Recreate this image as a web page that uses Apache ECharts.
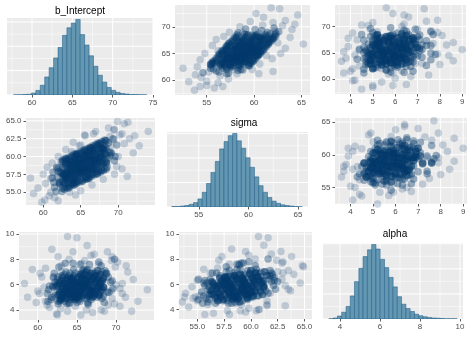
<!DOCTYPE html>
<html><head><meta charset="utf-8">
<script src="https://cdn.jsdelivr.net/npm/echarts@6/dist/echarts.min.js"></script>
<style>html,body{margin:0;padding:0;background:#fff}#chart{width:474px;height:338px}</style>
</head><body><div id="chart"></div>
<script>
// ---------------- data ----------------
const bInterceptBinCenters = [58.0,58.55,59.1,59.65,60.2,60.75,61.3,61.85,62.4,62.95,63.5,64.05,64.6,65.15,65.7,66.25,66.8,67.35,67.9,68.45,69.0,69.55,70.1,70.65,71.2,71.75,72.3,72.85,73.4,73.95];
const bInterceptCounts = [1,1,2,3,8,19,40,74,112,152,195,245,276,295,310,248,205,161,118,81,53,31,19,11,6,4,2,2,1,1];
const bInterceptBinWidth = 0.55;
const sigmaBinCenters = [52.5,52.94,53.38,53.81,54.25,54.69,55.13,55.57,56.0,56.44,56.88,57.32,57.76,58.19,58.63,59.07,59.51,59.95,60.39,60.83,61.26,61.7,62.14,62.58,63.02,63.45,63.89,64.33,64.77,65.2];
const sigmaCounts = [2,2,4,6,11,18,33,60,96,141,186,237,267,291,300,270,240,201,162,123,87,60,39,24,15,9,6,4,2,1];
const sigmaBinWidth = 0.438;
const alphaBinCenters = [3.55,3.76,3.98,4.19,4.41,4.62,4.83,5.05,5.26,5.48,5.69,5.9,6.12,6.33,6.55,6.76,6.97,7.19,7.4,7.62,7.83,8.04,8.26,8.47,8.69,8.9,9.11,9.33,9.54,9.75];
const alphaCounts = [1,4,12,27,50,92,149,202,249,276,297,279,238,205,166,128,89,59,42,30,19,13,9,6,4,3,2,1,1,1];
const alphaBinWidth = 0.214;

// draws [b_Intercept, sigma, alpha]; lower triangle panels (bulk of the cloud)
const lowerDraws = [
[61.2,57.0,5.3],[61.5,55.7,5.9],[61.8,58.5,5.0],[61.4,56.4,5.6],[62.0,57.9,6.6],[61.7,55.1,4.8],[61.9,57.1,5.9],[61.3,57.8,4.7],
[62.1,56.4,6.9],[62.4,59.3,5.8],[62.7,57.2,6.2],[62.9,56.1,4.8],[62.3,57.8,5.9],[62.6,59.2,4.7],[62.2,56.3,6.2],[62.8,57.5,5.2],
[62.5,55.1,6.4],[62.0,58.4,5.8],[62.9,57.0,4.8],[62.4,57.7,6.0],[62.7,57.7,7.4],[62.2,56.1,5.2],
[63.1,59.1,5.6],[63.4,57.4,6.1],[63.7,58.7,5.0],[63.9,56.2,5.5],[63.2,57.8,6.6],[63.5,58.9,5.3],[63.8,57.3,5.9],[63.0,59.6,4.9],
[63.6,57.7,7.0],[63.3,56.3,5.3],[63.9,58.6,6.4],[63.5,59.6,5.3],[63.2,56.8,5.7],[63.7,57.9,4.5],[63.4,55.6,6.1],[63.8,59.3,5.5],
[63.1,57.1,6.7],[63.6,58.3,5.7],[63.3,58.0,5.0],[63.9,56.9,5.9],[63.5,59.3,7.7],[63.0,57.2,5.4],
[64.1,58.9,5.5],[64.4,56.5,6.0],[64.7,58.5,5.0],[64.9,59.6,6.0],[64.2,57.5,6.5],[64.5,60.3,5.5],[64.8,58.3,6.0],[64.0,56.7,4.5],
[64.6,59.0,7.2],[64.3,60.0,5.9],[64.9,57.6,6.2],[64.5,58.3,5.1],[64.2,56.0,5.6],[64.7,59.7,4.8],[64.4,57.8,6.5],[64.8,58.9,5.4],
[64.1,58.4,6.9],[64.6,57.3,5.6],[64.3,59.7,5.3],[64.9,58.1,6.1],[64.5,59.1,7.7],[64.0,56.3,5.2],[64.7,58.5,5.5],[64.2,59.3,6.4],
[64.8,57.8,4.9],[64.4,60.3,6.1],[64.6,58.2,6.6],[64.3,56.8,5.0],
[65.1,59.2,6.2],[65.4,60.6,5.1],[65.7,58.0,7.1],[65.9,59.0,5.7],[65.2,56.5,6.1],[65.5,60.1,5.4],[65.8,58.5,6.0],[65.0,59.0,4.6],
[65.6,59.2,6.7],[65.3,57.6,5.2],[65.9,60.5,7.2],[65.5,58.4,5.8],[65.2,59.5,5.2],[65.7,57.1,6.0],[65.4,58.9,7.6],[65.8,60.1,5.8],
[65.1,57.9,5.4],[65.6,60.9,6.6],[65.3,58.5,5.0],[65.9,57.6,5.7],[65.5,59.4,6.8],[65.0,60.4,5.5],[65.7,58.0,6.0],[65.2,58.7,4.8],
[65.8,56.8,6.9],[65.4,60.1,5.9],[65.6,58.4,6.4],[65.3,59.1,5.3],
[66.1,59.4,6.1],[66.4,58.2,4.5],[66.7,60.9,6.9],[66.9,59.1,5.5],[66.2,60.0,7.1],[66.5,57.5,5.6],[66.8,59.6,5.2],[66.0,60.2,6.4],
[66.6,58.7,7.6],[66.3,61.2,6.0],[66.9,59.3,5.6],[66.5,57.9,6.2],[66.2,59.8,5.2],[66.7,61.2,6.3],[66.4,58.4,6.7],[66.8,59.5,5.4],
[66.1,56.9,5.8],[66.6,60.7,5.1],[66.3,58.7,7.2],[66.0,59.5,5.8],[66.5,59.6,6.5],[66.7,58.3,5.1],[66.2,60.7,6.3],[66.4,58.9,4.6],
[67.1,60.4,6.9],[67.4,58.0,5.3],[67.7,60.0,7.1],[67.9,61.1,6.2],[67.2,59.0,5.1],[67.5,61.8,6.7],[67.8,59.8,7.8],[67.0,58.2,5.5],
[67.6,60.5,5.8],[67.3,61.5,6.7],[67.9,59.1,5.1],[67.5,59.8,6.1],[67.2,57.5,6.5],[67.7,61.2,5.7],[67.4,59.3,6.2],[67.0,60.0,5.0],
[68.1,60.4,7.5],[68.4,59.2,5.8],[68.7,61.9,6.9],[68.9,60.1,5.4],[68.2,61.0,6.3],[68.5,58.5,4.6],[68.8,60.6,6.9],[68.0,61.2,5.8],
[68.6,59.7,7.1],[68.3,62.2,6.3],[69.1,60.4,5.4],[69.5,59.4,6.3],[69.8,61.6,8.0],[69.3,62.5,6.2],[69.6,60.0,5.7],[69.0,60.6,6.6],
[62.6,55.5,4.5],[62.6,56.5,5.2],[62.6,57.5,5.9],[62.6,58.5,6.6],[62.6,59.5,5.2],
[62.8,55.4,5.4],[62.8,56.4,6.1],[62.8,57.4,4.7],[62.8,58.4,5.4],[62.8,59.4,6.1],
[63.0,55.7,6.3],[63.0,56.7,4.9],[63.0,57.7,5.6],[63.0,58.7,6.3],[63.0,59.7,4.9],
[63.2,55.6,5.1],[63.2,56.6,5.8],[63.2,57.6,6.5],[63.2,58.6,5.1],[63.2,59.6,5.9],
[63.4,55.9,6.1],[63.4,56.9,4.7],[63.4,57.9,5.4],[63.4,58.9,6.1],[63.4,59.9,6.8],
[63.6,55.8,4.9],[63.6,56.8,5.6],[63.6,57.8,6.3],[63.6,58.8,4.9],[63.6,59.8,5.6],
[63.8,56.1,5.8],[63.8,57.1,6.5],[63.8,58.1,5.1],[63.8,59.1,5.8],[63.8,60.1,6.5],
[64.0,56.0,4.6],[64.0,57.0,5.3],[64.0,58.0,6.0],[64.0,59.0,6.7],[64.0,60.0,5.3],
[64.2,56.3,5.5],[64.2,57.3,6.2],[64.2,58.3,4.8],[64.2,59.3,5.5],[64.2,60.3,6.2],
[64.4,56.2,6.4],[64.4,57.2,5.0],[64.4,58.2,5.7],[64.4,59.2,6.4],[64.4,60.2,5.0],
[64.6,56.5,5.2],[64.6,57.5,6.0],[64.6,58.5,6.7],[64.6,59.5,5.3],[64.6,60.5,6.0],
[64.8,56.4,6.2],[64.8,57.4,4.8],[64.8,58.4,5.5],[64.8,59.4,6.2],[64.8,60.4,6.9],
[65.0,56.7,5.0],[65.0,57.7,5.7],[65.0,58.7,6.4],[65.0,59.7,5.0],[65.0,60.7,5.7],
[65.2,56.6,5.9],[65.2,57.6,6.6],[65.2,58.6,5.2],[65.2,59.6,5.9],[65.2,60.6,6.6],
[65.4,56.9,4.7],[65.4,57.9,5.4],[65.4,58.9,6.1],[65.4,59.9,6.8],[65.4,60.9,5.4],
[65.6,56.8,5.6],[65.6,57.8,6.3],[65.6,58.8,4.9],[65.6,59.8,5.6],[65.6,60.8,6.3],
[65.8,57.1,6.5],[65.8,58.1,5.1],[65.8,59.1,5.8],[65.8,60.1,6.5],[65.8,61.1,5.2],
[66.0,57.0,5.3],[66.0,58.0,6.1],[66.0,59.0,6.8],[66.0,60.0,5.4],[66.0,61.0,6.1],
[66.2,57.3,6.3],[66.2,58.3,4.9],[66.2,59.3,5.6],[66.2,60.3,6.3],[66.2,61.3,7.0],
[66.4,57.2,5.1],[66.4,58.2,5.8],[66.4,59.2,6.5],[66.4,60.2,5.1],[66.4,61.2,5.8],
[66.6,57.5,6.0],[66.6,58.5,6.7],[66.6,59.5,5.3],[66.6,60.5,6.0],[66.6,61.5,6.7],
[66.8,57.4,4.8],[66.8,58.4,5.5],[66.8,59.4,6.2],[66.8,60.4,6.9],[66.8,61.4,5.5],
[67.0,57.7,5.7],[67.0,58.7,6.4],[67.0,59.7,5.0],[67.0,60.7,5.7],[67.0,61.7,6.4],
[67.2,57.6,6.6],[67.2,58.6,5.2],[67.2,59.6,5.9],[67.2,60.6,6.6],[67.2,61.6,5.3],
[67.4,57.9,5.5],[67.4,58.9,6.2],[67.4,59.9,6.9],[67.4,60.9,5.5],[67.4,61.9,6.2],
[67.6,57.8,6.4],[67.6,58.8,5.0],[67.6,59.8,5.7],[67.6,60.8,6.4],[67.6,61.8,7.1],
[67.8,58.1,5.2],[67.8,59.1,5.9],[67.8,60.1,6.6],[67.8,61.1,5.2],[67.8,62.1,5.9],
[68.0,58.0,6.1],[68.0,59.0,6.8],[68.0,60.0,5.4],[68.0,61.0,6.1],[68.0,62.0,6.8],
[68.2,58.3,4.9],[68.2,59.3,5.6],[68.2,60.3,6.3],[68.2,61.3,7.0],[68.2,62.3,5.6],
[68.4,58.2,5.8],[68.4,59.2,6.5],[68.4,60.2,5.1],[68.4,61.2,5.8],[68.4,62.2,6.5]
];
// lower triangle: sparse outlying draws
const lowerTailDraws = [
[74.0,63.5,5.6],[71.3,64.8,7.5],[69.9,64.9,7.4],[70.8,64.6,6.1],[72.8,61.5,4.7],[72.0,60.5,3.9],[71.2,57.2,5.0],[72.2,62.9,6.4],
[58.7,54.8,5.0],[59.8,53.6,4.6],[58.3,57.0,6.1],[63.8,60.7,9.8],[65.0,61.6,9.7],[66.3,61.2,9.1],[61.8,58.2,8.8],[64.5,59.5,8.6],
[67.2,61.9,8.4],[62.6,57.3,8.2],[66.8,59.8,8.3],[64.0,60.4,8.0],[69.4,62.4,7.9],[65.6,62.9,7.7],[70.2,63.0,7.8],[69.5,63.8,8.2],
[68.9,62.8,8.6],[70.5,63.2,4.3],[60.2,53.9,5.3],[61.5,54.2,4.2],[62.5,55.7,3.6],[60.8,54.5,5.8],[62.0,53.8,5.0],[62.4,56.5,3.7],
[63.8,57.8,3.9],[67.0,59.5,3.8],[68.1,60.7,4.0],[65.5,58.0,3.6],[62.0,60.0,6.5],[63.0,61.0,7.0],[64.0,62.0,6.6],[65.5,63.0,6.9],
[67.0,63.5,7.1],[68.7,64.0,6.8],[66.7,63.2,5.9],[69.4,63.7,5.5],[65.0,55.2,5.1],[66.5,56.0,4.4],[68.0,56.8,5.4],[69.5,57.5,4.9],
[70.5,58.3,5.7],[60.0,57.5,5.5],[60.5,58.5,6.6],[61.0,55.0,4.7],[60.3,56.2,6.9],[70.0,60.0,6.0],[70.8,61.8,5.3],[71.5,62.5,7.0],
[69.8,58.6,4.5],[59.3,55.6,7.2],[61.2,59.1,4.4],[63.5,55.0,6.3],[64.3,54.6,4.9],[67.8,58.0,7.6],[66.0,57.0,7.9],[63.0,58.9,7.5],
[61.0,56.9,7.3],[68.5,59.0,3.9],[64.8,61.5,4.3],[62.9,59.8,4.1],[66.2,60.8,4.0],[69.0,61.5,4.4]
];

// draws [b_Intercept, sigma, alpha]; upper triangle panels (bulk of the cloud)
const upperDraws = [
[61.2,57.1,4.6],[61.5,56.3,6.8],[61.8,58.3,5.6],[61.4,54.6,5.8],[62.0,57.1,5.0],[61.7,56.0,5.6],[61.9,58.8,4.6],[61.3,57.3,6.4],
[62.1,55.7,5.0],[62.4,57.1,6.7],[62.7,59.4,5.9],[62.9,56.8,4.8],[62.3,58.3,6.1],[62.6,57.5,7.4],[62.2,55.4,5.1],[62.8,58.3,5.4],
[62.5,56.9,6.0],[62.0,58.6,5.0],[62.9,56.4,5.6],[62.4,57.6,6.5],[62.7,57.8,5.2],[62.2,56.7,5.8],
[63.1,58.9,4.8],[63.4,55.6,6.7],[63.7,57.9,5.6],[63.9,57.1,6.2],[63.2,59.5,5.3],[63.5,58.4,6.0],[63.8,56.6,4.3],[63.0,57.4,6.4],
[63.6,59.9,5.6],[63.3,57.0,6.6],[63.9,59.1,5.9],[63.5,57.9,5.0],[63.2,55.9,5.8],[63.7,58.7,7.6],[63.4,57.4,5.4],[63.8,59.5,5.6],
[63.1,56.5,6.0],[63.6,58.2,4.9],[63.3,58.1,5.8],[63.9,57.5,6.5],[63.5,59.1,5.4],[63.0,55.4,5.6],
[64.1,58.1,4.7],[64.4,57.4,7.0],[64.7,60.2,5.9],[64.9,59.1,6.5],[64.2,56.8,4.9],[64.5,58.1,5.9],[64.8,60.5,4.9],[64.0,57.4,6.4],
[64.6,59.5,5.5],[64.3,58.3,6.8],[64.9,56.7,5.5],[64.5,59.1,5.2],[64.2,57.8,6.1],[64.7,59.9,7.8],[64.4,57.2,5.4],[64.8,58.8,5.5],
[64.1,58.5,6.3],[64.6,57.9,4.9],[64.3,59.5,6.0],[64.9,56.3,6.3],[64.5,58.3,5.2],[64.0,57.2,5.9],[64.7,60.2,5.0],[64.2,58.8,7.2],
[64.8,57.1,5.5],[64.4,58.1,6.3],[64.6,60.4,5.5],[64.3,57.5,5.8],
[65.1,59.7,4.8],[65.4,58.9,6.6],[65.7,57.1,5.2],[65.9,59.8,7.1],[65.2,58.3,5.7],[65.5,60.3,5.3],[65.8,57.9,6.1],[65.0,58.9,7.6],
[65.6,59.3,5.7],[65.3,58.2,5.4],[65.9,60.3,6.5],[65.5,56.6,4.7],[65.2,58.7,5.9],[65.7,58.0,6.6],[65.4,60.6,5.6],[65.8,59.6,6.2],
[65.1,57.2,4.6],[65.6,58.7,7.2],[65.3,60.7,6.0],[65.9,58.3,6.3],[65.5,59.9,5.4],[65.0,58.7,6.0],[65.7,57.1,4.4],[65.2,59.5,6.7],
[65.8,58.6,5.4],[65.4,60.3,7.1],[65.6,57.8,5.7],[65.3,59.0,5.1],
[66.1,59.5,6.3],[66.4,58.8,7.6],[66.7,60.7,5.9],[66.9,57.3,5.3],[66.2,59.2,6.4],[66.5,58.4,5.0],[66.8,61.3,6.3],[66.0,59.7,6.9],
[66.6,58.0,5.2],[66.3,59.0,6.1],[66.9,61.5,5.2],[66.5,58.6,7.2],[66.2,60.3,5.9],[66.7,59.5,6.5],[66.4,57.5,5.0],[66.8,60.3,6.2],
[66.1,58.7,4.6],[66.6,60.9,6.9],[66.3,58.1,5.3],[66.0,59.4,7.0],[66.5,59.7,6.0],[66.7,58.9,5.1],[66.2,60.5,6.5],[66.4,57.1,7.4],
[67.1,59.6,5.7],[67.4,58.9,5.5],[67.7,61.7,6.8],[67.9,60.6,5.3],[67.2,58.3,5.8],[67.5,59.6,6.8],[67.8,62.0,5.8],[67.0,58.9,6.1],
[67.6,61.0,5.1],[67.3,59.8,7.4],[67.9,58.2,5.6],[67.5,60.6,6.7],[67.2,59.3,5.3],[67.7,61.4,6.4],[67.4,58.7,4.6],[67.0,59.9,6.8],
[68.1,60.5,5.7],[68.4,59.8,7.1],[68.7,61.7,6.3],[68.9,58.3,5.0],[68.2,60.2,6.4],[68.5,59.4,7.7],[68.8,62.3,6.1],[68.0,60.7,5.8],
[68.6,59.0,6.3],[68.3,60.0,5.2],[69.1,62.6,6.5],[69.5,60.1,6.9],[69.8,62.1,5.8],[69.3,60.8,6.4],[69.6,59.1,4.9],[69.0,61.4,7.6],
[62.7,55.5,5.4],[62.7,56.5,6.1],[62.7,57.5,4.7],[62.7,58.5,5.4],[62.7,59.5,6.1],
[62.9,55.4,6.3],[62.9,56.4,4.9],[62.9,57.4,5.6],[62.9,58.4,6.3],[62.9,59.4,4.9],
[63.1,55.7,5.1],[63.1,56.7,5.8],[63.1,57.7,6.5],[63.1,58.7,5.1],[63.1,59.7,5.9],
[63.3,55.6,6.1],[63.3,56.6,4.7],[63.3,57.6,5.4],[63.3,58.6,6.1],[63.3,59.6,6.8],
[63.5,55.9,4.9],[63.5,56.9,5.6],[63.5,57.9,6.3],[63.5,58.9,4.9],[63.5,59.9,5.6],
[63.7,55.8,5.8],[63.7,56.8,6.5],[63.7,57.8,5.1],[63.7,58.8,5.8],[63.7,59.8,6.5],
[63.9,56.1,4.6],[63.9,57.1,5.3],[63.9,58.1,6.0],[63.9,59.1,6.7],[63.9,60.1,5.3],
[64.1,56.0,5.5],[64.1,57.0,6.2],[64.1,58.0,4.8],[64.1,59.0,5.5],[64.1,60.0,6.2],
[64.3,56.3,6.4],[64.3,57.3,5.0],[64.3,58.3,5.7],[64.3,59.3,6.4],[64.3,60.3,5.0],
[64.5,56.2,5.2],[64.5,57.2,6.0],[64.5,58.2,6.7],[64.5,59.2,5.3],[64.5,60.2,6.0],
[64.7,56.5,6.2],[64.7,57.5,4.8],[64.7,58.5,5.5],[64.7,59.5,6.2],[64.7,60.5,6.9],
[64.9,56.4,5.0],[64.9,57.4,5.7],[64.9,58.4,6.4],[64.9,59.4,5.0],[64.9,60.4,5.7],
[65.1,56.7,5.9],[65.1,57.7,6.6],[65.1,58.7,5.2],[65.1,59.7,5.9],[65.1,60.7,6.6],
[65.3,56.6,4.7],[65.3,57.6,5.4],[65.3,58.6,6.1],[65.3,59.6,6.8],[65.3,60.6,5.4],
[65.5,56.9,5.6],[65.5,57.9,6.3],[65.5,58.9,4.9],[65.5,59.9,5.6],[65.5,60.9,6.3],
[65.7,56.8,6.5],[65.7,57.8,5.1],[65.7,58.8,5.8],[65.7,59.8,6.5],[65.7,60.8,5.2],
[65.9,57.1,5.3],[65.9,58.1,6.1],[65.9,59.1,6.8],[65.9,60.1,5.4],[65.9,61.1,6.1],
[66.1,57.0,6.3],[66.1,58.0,4.9],[66.1,59.0,5.6],[66.1,60.0,6.3],[66.1,61.0,7.0],
[66.3,57.3,5.1],[66.3,58.3,5.8],[66.3,59.3,6.5],[66.3,60.3,5.1],[66.3,61.3,5.8],
[66.5,57.2,6.0],[66.5,58.2,6.7],[66.5,59.2,5.3],[66.5,60.2,6.0],[66.5,61.2,6.7],
[66.7,57.5,4.8],[66.7,58.5,5.5],[66.7,59.5,6.2],[66.7,60.5,6.9],[66.7,61.5,5.5],
[66.9,57.4,5.7],[66.9,58.4,6.4],[66.9,59.4,5.0],[66.9,60.4,5.7],[66.9,61.4,6.4],
[67.1,57.7,6.6],[67.1,58.7,5.2],[67.1,59.7,5.9],[67.1,60.7,6.6],[67.1,61.7,5.3],
[67.3,57.6,5.5],[67.3,58.6,6.2],[67.3,59.6,6.9],[67.3,60.6,5.5],[67.3,61.6,6.2],
[67.5,57.9,6.4],[67.5,58.9,5.0],[67.5,59.9,5.7],[67.5,60.9,6.4],[67.5,61.9,7.1],
[67.7,57.8,5.2],[67.7,58.8,5.9],[67.7,59.8,6.6],[67.7,60.8,5.2],[67.7,61.8,5.9],
[67.9,58.1,6.1],[67.9,59.1,6.8],[67.9,60.1,5.4],[67.9,61.1,6.1],[67.9,62.1,6.8],
[68.1,58.0,4.9],[68.1,59.0,5.6],[68.1,60.0,6.3],[68.1,61.0,7.0],[68.1,62.0,5.6],
[68.3,58.3,5.8],[68.3,59.3,6.5],[68.3,60.3,5.1],[68.3,61.3,5.8],[68.3,62.3,6.5],
[68.5,58.2,4.5],[68.5,59.2,5.2],[68.5,60.2,5.9],[68.5,61.2,6.6],[68.5,62.2,5.2]
];
// upper triangle: sparse outlying draws
const upperTailDraws = [
[66.8,65.2,7.7],[72.2,64.6,6.4],[73.4,62.7,7.3],[73.6,61.8,5.6],[59.7,53.1,4.1],[58.1,53.7,4.5],[62.2,52.5,5.2],[58.8,56.7,5.0],
[67.6,56.0,5.5],[61.6,62.0,6.3],[65.6,61.0,9.0],[67.0,62.5,8.6],[68.3,61.5,8.1],[71.2,63.3,7.9],[65.2,57.5,3.7],[63.4,56.6,3.6],
[61.2,58.2,3.7],[59.8,55.0,4.2],[58.5,55.8,5.0],[58.8,54.3,5.9],[64.5,57.8,8.4],[63.0,55.5,7.2],[66.0,63.3,4.9],[70.5,64.3,6.4],
[60.5,54.4,6.7],[61.0,53.8,5.7],[62.5,54.0,4.4],[63.0,60.6,6.9],[62.0,59.8,5.4],[64.0,61.9,6.2],[65.0,62.8,5.8],[68.0,63.8,6.0],
[69.5,64.0,7.0],[70.8,62.0,5.0],[71.8,61.0,6.6],[72.5,60.2,5.9],[70.0,58.5,6.3],[69.0,57.4,5.2],[68.2,56.8,6.7],[66.5,55.6,5.9],
[65.0,54.8,6.3],[63.8,54.3,5.3],[60.2,57.3,6.0],[59.5,56.2,5.4],[61.5,55.2,4.0],[66.2,59.8,3.9],[68.8,60.5,4.1],[64.0,58.5,3.8],
[70.3,60.9,4.5],[67.5,58.2,4.3],[62.8,57.0,8.0],[66.5,60.5,8.3],[64.8,59.6,7.9],[69.2,62.2,7.6],[60.8,56.4,7.5],[63.5,59.0,8.6],
[71.0,59.6,7.4],[67.8,61.0,3.9],[62.0,57.8,4.1],[65.5,56.2,4.4],[59.0,55.0,6.5],[61.2,60.5,5.9],[70.2,63.0,4.8],[68.9,58.8,7.9],
[64.6,61.3,4.2]
];

// axis breaks (labels) and minor grid breaks
const bTicksHist = [60,65,70,75];
const bTicks = [60,65,70];
const bMinor = [57.5,62.5,67.5,72.5];
const sigmaTicksCoarse = [55,60,65];
const sigmaMinorCoarse = [52.5,57.5,62.5];
const sigmaTicksFine = [55,57.5,60,62.5,65];
const sigmaMinorFine = [53.75,56.25,58.75,61.25,63.75];
const alphaTicksUnit = [4,5,6,7,8,9];
const alphaMinorUnit = [3.5,4.5,5.5,6.5,7.5,8.5];
const alphaTicksEven = [4,6,8,10];
const alphaMinorEven = [5,7,9];
const countGrid = [0,100,200,300];
const countMinor = [50,150,250];
const titles = ['b_Intercept','sigma','alpha'];

// ---------------- layout ----------------
const panels = [
 {rect:[7,18,146,77], x:[56.9,75.0], y:[0,316], xt:bTicksHist, xm:bMinor, yt:[], yg:countGrid, ym:countMinor, hist:[bInterceptBinCenters,bInterceptCounts,bInterceptBinWidth]},
 {rect:[175,5,135,90], x:[51.65,65.9], y:[57.2,74.1], xt:sigmaTicksCoarse, xm:sigmaMinorCoarse, yt:bTicks, ym:bMinor, pts:[upperDraws,upperTailDraws], dims:[1,0]},
 {rect:[335,5,131,89], x:[3.31,9.17], y:[57.2,74.1], xt:alphaTicksUnit, xm:alphaMinorUnit, yt:bTicks, ym:bMinor, pts:[upperDraws,upperTailDraws], dims:[2,0]},
 {rect:[26,118,129,87], x:[57.7,74.9], y:[53.2,65.4], xt:bTicks, xm:bMinor, yt:sigmaTicksFine, ydec:1, ym:sigmaMinorFine, pts:[lowerDraws,lowerTailDraws], dims:[0,1]},
 {rect:[167,132,141,75], x:[51.8,66.0], y:[0,306], xt:sigmaTicksCoarse, xm:sigmaMinorCoarse, yt:[], yg:countGrid, ym:countMinor, hist:[sigmaBinCenters,sigmaCounts,sigmaBinWidth]},
 {rect:[335,118,132,86], x:[3.31,9.17], y:[52.5,65.6], xt:alphaTicksUnit, xm:alphaMinorUnit, yt:sigmaTicksCoarse, ym:sigmaMinorCoarse, pts:[upperDraws,upperTailDraws], dims:[2,1]},
 {rect:[19,232,135,88], x:[57.6,74.85], y:[3.21,10.16], xt:bTicks, xm:bMinor, yt:alphaTicksEven, ym:alphaMinorEven, pts:[lowerDraws,lowerTailDraws], dims:[0,2]},
 {rect:[179,232,133,87], x:[53.29,65.7], y:[3.25,10.15], xt:sigmaTicksFine, xdec:1, xm:sigmaMinorFine, yt:alphaTicksEven, ym:alphaMinorEven, pts:[lowerDraws,lowerTailDraws], dims:[1,2]},
 {rect:[323,243,140,76], x:[3.15,10.15], y:[0,303], xt:alphaTicksEven, xm:alphaMinorEven, yt:[], yg:countGrid, ym:countMinor, hist:[alphaBinCenters,alphaCounts,alphaBinWidth]}
];
const titlePos = [[80,11],[244,123],[395,234]];

const FONT = '"Liberation Sans", Arial, sans-serif';
function makeAxis(i, range, ticks, dec, isX) {
  const show = ticks.length > 0;
  return {
    type:'value', gridIndex:i, min:range[0], max:range[1], scale:true,
    axisLine:{show:false},
    axisTick:{show:show, customValues:ticks, length:2.5, lineStyle:{color:'#333333', width:0.8}},
    axisLabel:{show:show, customValues:ticks, margin:isX?3.5:4.5, fontSize:8, color:'#4D4D4D', fontFamily:FONT,
      formatter: v => Number(v).toFixed(dec||0)},
    splitLine:{show:false}, minorTick:{show:false}
  };
}
function gridLineSeries(i, p) {
  const data = [];
  p.xt.forEach(v => data.push([v, p.y[0], 0, 1]));
  p.xm.forEach(v => data.push([v, p.y[0], 0, 0]));
  (p.yg || p.yt).forEach(v => data.push([p.x[0], v, 1, 1]));
  p.ym.forEach(v => data.push([p.x[0], v, 1, 0]));
  return {
    type:'custom', xAxisIndex:i, yAxisIndex:i, z:1, silent:true, clip:true, animation:false,
    encode:{x:0, y:1}, data:data,
    renderItem(params, api) {
      const cs = params.coordSys;
      const pt = api.coord([api.value(0), api.value(1)]);
      const major = api.value(3) === 1;
      const shape = api.value(2) === 0
        ? {x1:pt[0], y1:cs.y, x2:pt[0], y2:cs.y + cs.height}
        : {x1:cs.x, y1:pt[1], x2:cs.x + cs.width, y2:pt[1]};
      return {type:'line', shape:shape, style:{stroke:'#FFFFFF', lineWidth: major ? 1 : 0.5}};
    }
  };
}
function histSeries(i, h) {
  const centers = h[0], counts = h[1], w = h[2];
  return {
    type:'custom', xAxisIndex:i, yAxisIndex:i, z:2, silent:true, clip:true, animation:false,
    encode:{x:0, y:1}, data: centers.map((c, k) => [c, counts[k]]),
    renderItem(params, api) {
      const c = api.value(0), n = api.value(1);
      const p0 = api.coord([c - w / 2, n]);
      const p1 = api.coord([c + w / 2, 0]);
      return {type:'rect', shape:{x:p0[0], y:p0[1], width:p1[0] - p0[0], height:p1[1] - p0[1]},
        style:{fill:'#6497B1', stroke:'#1C5A86', lineWidth:0.5}};
    }
  };
}

const grid = [], xAxis = [], yAxis = [], series = [];
panels.forEach((p, i) => {
  grid.push({left:p.rect[0], top:p.rect[1], width:p.rect[2], height:p.rect[3],
    show:true, backgroundColor:'#EBEBEB', borderWidth:0, containLabel:false});
  xAxis.push(makeAxis(i, p.x, p.xt, p.xdec, true));
  yAxis.push(makeAxis(i, p.y, p.yt, p.ydec, false));
  series.push(gridLineSeries(i, p));
  if (p.hist) {
    series.push(histSeries(i, p.hist));
  } else {
    const opac = [0.38, 0.2];
    p.pts.forEach((set, s) => {
      series.push({type:'scatter', xAxisIndex:i, yAxisIndex:i, z:3, silent:true, animation:false,
        symbol:'circle', symbolSize:7.5, large:false,
        itemStyle:{color:'#03396C', opacity:opac[s]},
        data: set.map(d => [d[p.dims[0]], d[p.dims[1]]])});
    });
  }
});

const chart = echarts.init(document.getElementById('chart'), null, {renderer:'canvas'});
chart.setOption({
  animation:false, backgroundColor:'#FFFFFF',
  grid:grid, xAxis:xAxis, yAxis:yAxis, series:series,
  graphic: titles.map((t, k) => ({type:'text', x:titlePos[k][0], y:titlePos[k][1], silent:true,
    style:{text:t, fill:'#000000', font:'10px ' + FONT, align:'center', verticalAlign:'middle',
      textAlign:'center', textVerticalAlign:'middle'}}))
});
</script>
</body></html>
